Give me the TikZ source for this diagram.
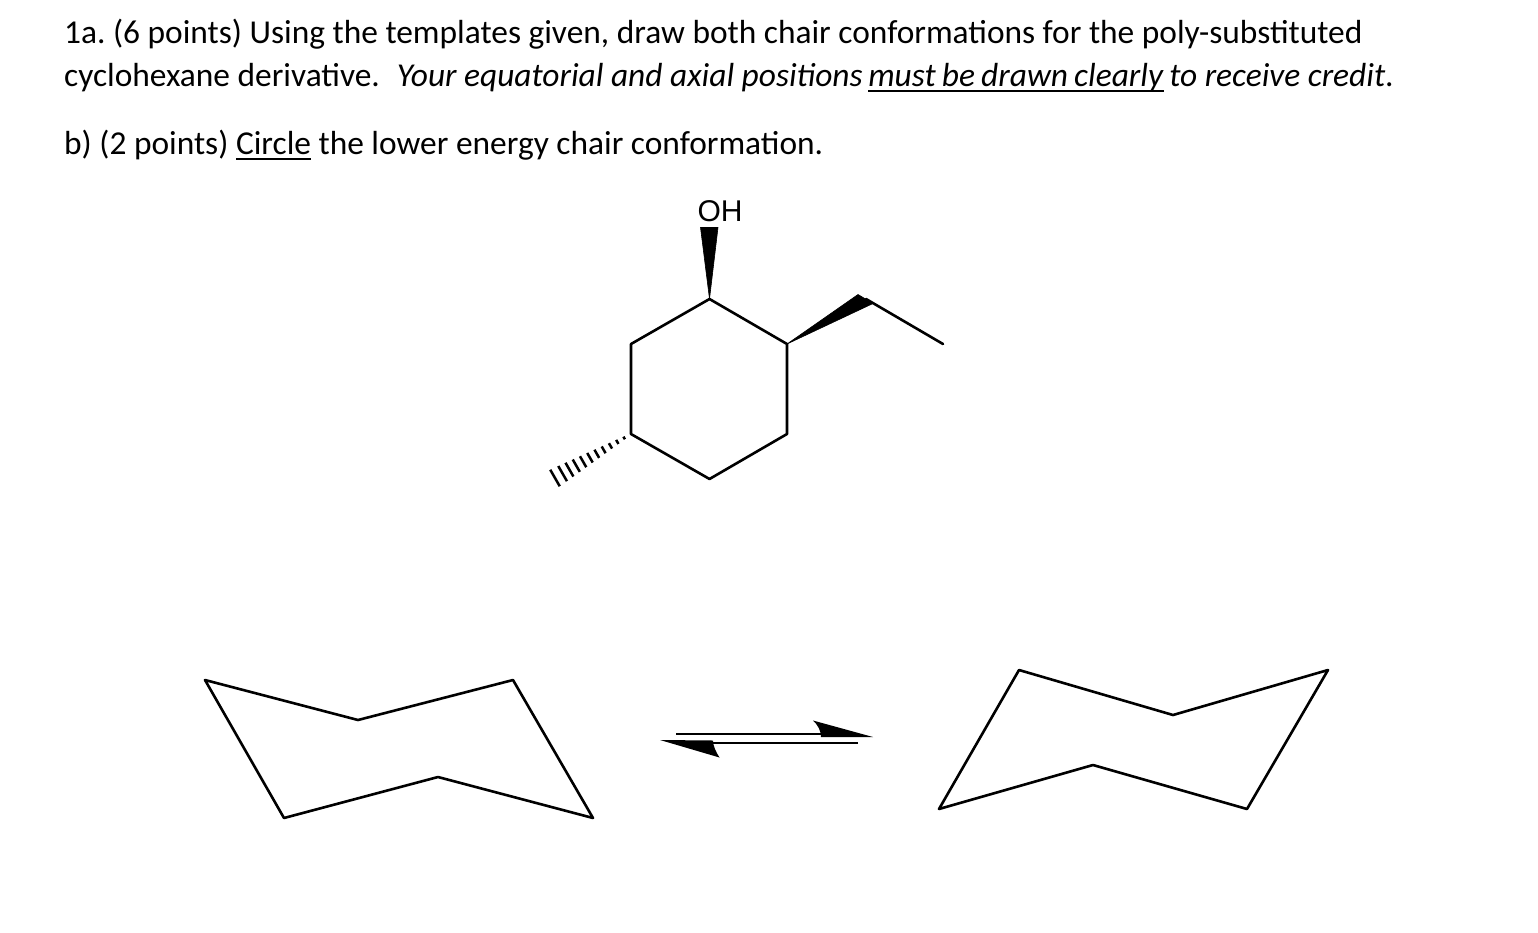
\documentclass[tikz,border=0pt]{standalone}
\usepackage{fontspec}
\setmainfont{Carlito}
\newfontfamily\arialf{Liberation Sans}
\newcommand\myul[1]{\setbox0\hbox{#1}\rlap{\rule[-6pt]{\wd0}{2pt}}\box0\relax}
\tikzset{
  bond/.style={line width=2.6pt,line cap=round,line join=round},
  hatch/.style={line width=2.5pt},
  eqline/.style={line width=2.6pt},
  qtext/.style={anchor=base west,inner sep=0pt,font=\fontsize{33.4pt}{38pt}\selectfont},
  wedge/.style={fill=black,draw=black,line width=0.6pt,line join=round},
  lab/.style={inner sep=0pt,font=\arialf\fontsize{30pt}{34pt}\selectfont}
}
\begin{document}
\begin{tikzpicture}[x=1pt,y=-1pt]
\useasboundingbox (0,0) rectangle (1538,932);
\fill[white] (0,0) rectangle (1538,932);
\node[qtext] (t1) at (64,43) {\frenchspacing 1a. (6 points) Using the templates given, draw both chair conformations for the poly-substituted};
\node[qtext] (t2) at (64,86) {\frenchspacing cyclohexane derivative.\ \ \hspace{2pt}\textit{Your equatorial and axial positions}\hspace{-2pt} \myul{\spaceskip=6.2pt\textit{must be drawn clearly}}\hspace{-2pt} \textit{to receive credit}.};
\node[qtext] (t3) at (64,154) {\frenchspacing b) (2 points) \myul{Circle} the lower energy chair conformation.};
\node[lab] (oh) at (720,211) {OH};
\coordinate (a1) at (709.5,299);
\coordinate (a2) at (787,344);
\coordinate (a3) at (787,434);
\coordinate (a4) at (709.5,479);
\coordinate (a5) at (631,434);
\coordinate (a6) at (631,344);
\draw[bond] (a1)--(a2)--(a3)--(a4)--(a5)--(a6)--cycle;
\filldraw[wedge] (a1) -- (700.5,227.5) -- (718,227.5) -- cycle;
\coordinate (et1) at (866,299);
\coordinate (et2) at (943,344);
\filldraw[wedge] (a2) -- (858,294.5) -- (873,303.5) -- cycle;
\draw[bond] (et1)--(et2);
\coordinate (hs) at (631,434);
\coordinate (he) at (555,478);
\foreach \f/\w in {0.09/1.5,0.18/2.3,0.27/3.1,0.36/3.9,0.45/4.7,0.54/5.5,0.63/6.3,0.72/7.1,0.81/7.9,0.90/8.7,1/9.5}{
  \path (hs) -- (he) coordinate[pos=\f] (h);
  \draw[hatch] ([shift={(-0.5*\w,-0.87*\w)}]h) -- ([shift={(0.5*\w,0.87*\w)}]h);
}
\draw[bond] (205,680)--(358,720)--(513,680)--(593,818)--(438,777)--(284,818)--cycle;
\draw[bond] (1019,670)--(1173,715)--(1328,670)--(1247,809)--(1093,765)--(939,809)--cycle;
\coordinate (r1) at (676,734);
\coordinate (r2) at (825,734);
\draw[eqline] (r1)--(r2);
\fill (873,737) -- (813,720.5) .. controls (818,725) and (821,731) .. (821,737) -- cycle;
\coordinate (l1) at (858,743);
\coordinate (l2) at (712,743);
\draw[eqline] (l1)--(l2);
\fill (660,740) -- (713,740.5) .. controls (713,746) and (716,752) .. (719.5,757.5) -- cycle;
\end{tikzpicture}
\end{document}
